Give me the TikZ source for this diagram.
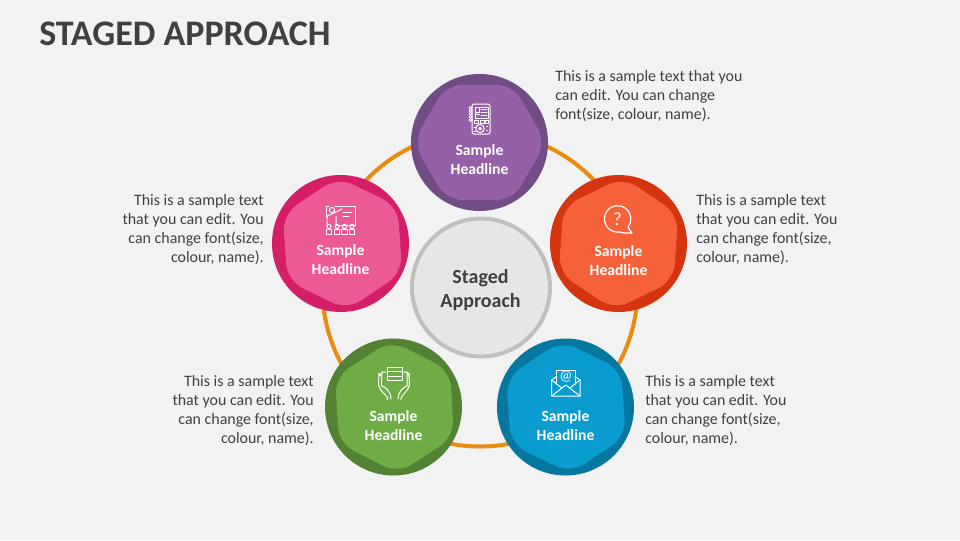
\documentclass[tikz,border=0pt]{standalone}
\usepackage{fontspec}
\setmainfont{Carlito}
\definecolor{bg}{HTML}{F2F2F2}
\definecolor{txt}{HTML}{404040}
\definecolor{ringcol}{HTML}{EA8A0E}
\definecolor{coreline}{HTML}{BFBFBF}
\definecolor{corefill}{HTML}{E6E6E6}
\definecolor{pd}{HTML}{724C85}\definecolor{pl}{HTML}{9660A8}
\definecolor{kd}{HTML}{D41F68}\definecolor{kl}{HTML}{EC5A96}
\definecolor{rd}{HTML}{D4350F}\definecolor{rl}{HTML}{F5623A}
\definecolor{gd}{HTML}{548235}\definecolor{gl}{HTML}{6FAC46}
\definecolor{bd}{HTML}{06789F}\definecolor{bl}{HTML}{0B9CCF}
\tikzset{
  bodytext/.style={text=txt,inner sep=0pt,font=\fontsize{11.95pt}{14.25pt}\selectfont},
  leftbody/.style={bodytext,align=left,anchor=west},
  rightbody/.style={bodytext,align=right,anchor=east},
  headtext/.style={text=white,align=center,inner sep=0pt,font=\fontsize{11.7pt}{14.25pt}\selectfont\bfseries},
  disc/.style={circle,minimum size=102.75pt,inner sep=0pt},
  ico/.style={draw=white,line width=0.75pt,fill=none,line cap=round,line join=round},
}
% #1 name, #2 x, #3 y, #4 rotation, #5 dark, #6 light, #7 text y, #8 hexagon x offset
\newcommand{\petal}[8]{%
  \node[disc,fill=#5] (#1) at (#2,#3) {};
  \fill[#6,rounded corners=12.5pt,shift={(#2+#8,#3)}] (#4:66.5) -- (#4+60:66.5) -- (#4+120:66.5) -- (#4+180:66.5) -- (#4+240:66.5) -- (#4+300:66.5) -- cycle;
  \node[headtext] (#1h) at (#2,#7) {Sample\\Headline};}
\begin{document}
\begin{tikzpicture}[x=0.75pt,y=-0.75pt]
\useasboundingbox[fill=bg] (0,0) rectangle (960,540);
\node[anchor=west,inner sep=0pt,text=txt,font=\fontsize{27pt}{30pt}\selectfont\bfseries] (title) at (39,34) {STAGED APPROACH};
\coordinate (ringc) at (480,289);
\draw[ringcol,line width=3pt] (ringc) circle[radius=157.5];
\node[circle,draw=coreline,fill=corefill,line width=3pt,minimum size=103.5pt,inner sep=0pt] (core) at (481,287.5) {};
\node[inner sep=0pt,text=txt,align=center,font=\fontsize{15pt}{18pt}\selectfont\bfseries] (corelabel) at (480.5,290.5) {Staged\\Approach};

\petal{purple}{479.5}{142.5}{0}{pd}{pl}{159.5}{0}
\petal{pink}{340.5}{243.5}{-34}{kd}{kl}{259.5}{2}
\petal{red}{618.5}{243.5}{-26}{rd}{rl}{260.5}{0}
\petal{green}{393.5}{407}{-33}{gd}{gl}{425.5}{1}
\petal{blue}{565.5}{407}{-34}{bd}{bl}{425.5}{0.5}

\node[leftbody] (t1) at (555,96) {This is a sample text that you\\can edit. You can change\\font(size, colour, name).};
\node[leftbody] (t2) at (696,229.5) {This is a sample text\\that you can edit. You\\can change font(size,\\colour, name).};
\node[rightbody] (t3) at (264,229.5) {This is a sample text\\that you can edit. You\\can change font(size,\\colour, name).};
\node[rightbody] (t4) at (314,410.5) {This is a sample text\\that you can edit. You\\can change font(size,\\colour, name).};
\node[leftbody] (t5) at (645,410.5) {This is a sample text\\that you can edit. You\\can change font(size,\\colour, name).};

% purple icon: organiser
\draw[ico,rounded corners=1.5pt] (472,104) -- (490,104) -- (490,134) -- (472,134) -- cycle;
\foreach \yy in {108,111,114,117,120} \draw[ico,line width=0.6pt] (470.5,\yy) circle[radius=1.5];
\draw[ico] (475,107) rectangle (488,118);
\draw[ico] (475,107) rectangle (479.5,112) (475,114.5) -- (479.5,114.5) (481,109) -- (487,109) (481,112) -- (487,112) (481,115) -- (487,115);
\draw[ico] (474,120.5) rectangle (478,123) (480,120.5) rectangle (484,123) (485.5,120.5) rectangle (488,123);
\draw[ico] (480,128.5) circle[radius=4.2] (480,128.5) circle[radius=1.4];
\draw[ico] (474,127) -- (475.5,127) (474,131) -- (475.5,131) (486.5,126) -- (487.5,126) (486.5,130) -- (487.5,130);

% pink icon: presenter and audience
\draw[ico] (335,206) -- (355,206) -- (355,225) -- (337,225) (326,217) -- (326,206) -- (329,206);
\draw[ico] (343,212) -- (352,212) (343,216) -- (349,216);
\draw[ico] (332,210) circle[radius=2.6];
\draw[ico] (327,225) -- (327,216) -- (332,214) -- (342,209) (336,226) -- (336,216);
\foreach \xx in {329,337,344.5,352}{
  \draw[ico] (\xx,226.5) circle[radius=2.1];
  \draw[ico] (\xx-2.6,234) -- (\xx-2.6,229) -- (\xx+2.6,229) -- (\xx+2.6,234) -- cycle;}

% red icon: question bubble
\draw[ico,line width=0.9pt] (628,227) arc[start angle=38,end angle=-280,radius=13.2] .. controls (622,233.5) and (628,233) .. (632,233) .. controls (630,231) and (629,229) .. (628,227);
\node[inner sep=0pt,text=white,font=\fontsize{14pt}{15pt}\selectfont] (qm) at (617.5,219.5) {?};

% green icon: hands and stack
\draw[ico] (387,367) rectangle (402,380);
\draw[ico] (387,371.5) -- (402,371.5) (387,376) -- (402,376);
\draw[ico] (386,372) -- (382,372) -- (380.5,376) -- (379,373) -- (378.5,385) .. controls (380,391) and (385,394) .. (388,398) -- (387,399.5);
\draw[ico] (382,372) -- (381.5,386) (382,386) .. controls (385,387) and (391,391) .. (391,399);
\draw[ico] (403,372) -- (407,372) -- (408.5,376) -- (409,373) -- (409.5,385) .. controls (408,391) and (403,394) .. (401,398) -- (401,399.5);
\draw[ico] (407,372) -- (407,386) (407,386) .. controls (404,387) and (398,391) .. (398,399);

% blue icon: envelope
\draw[ico] (551.7,380) -- (551.7,396) -- (580,396) -- (580,380) -- (575,376.5);
\draw[ico] (551.7,380) -- (556.5,376.5) (551.7,396) -- (565.8,385) -- (580,396) (551.7,380) -- (561,387.5) (580,380) -- (570.5,387.5);
\draw[ico] (556.5,384) -- (556.5,370.5) -- (575,370.5) -- (575,384);
\node[inner sep=0pt,text=white,font=\fontsize{11pt}{12pt}\selectfont] (at) at (565.8,377) {@};
\end{tikzpicture}
\end{document}
